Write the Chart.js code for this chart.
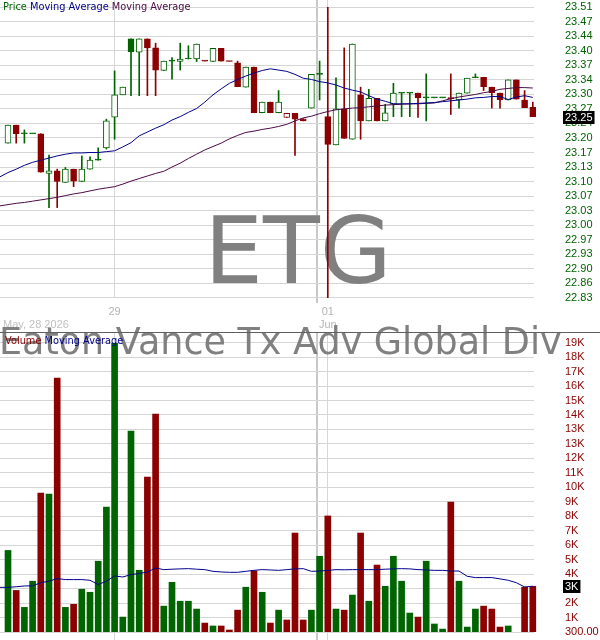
<!DOCTYPE html>
<html>
<head>
<meta charset="utf-8">
<script src="https://cdn.jsdelivr.net/npm/chart.js@4.4.1/dist/chart.umd.min.js"></script>
<style>
	html, body { margin: 0; padding: 0; background: #fff; }
	#quadro { position: relative; width: 600px; height: 640px; overflow: hidden; }
	#precos { position: absolute; left: 0; top: 0; }
	#volume { position: absolute; left: 0; top: 300px; }
</style>
</head>
<body>
<div id="quadro">
	<canvas id="precos" width="600" height="332"></canvas>
	<canvas id="volume" width="600" height="340"></canvas>
</div>
<script>
simbolo = 'ETG'
empresa = 'Eaton Vance Tx Adv Global Div'
dataInicio = 'May, 28 2026'

// marcas do eixo x (posicao do candle) e rotulos
diasPos = [13, 37.65, 39]
diasLabels = ['29', '', ['01', 'Jun']]

opens = [23.192, 23.234, 23.214, 23.214, 23.214, 23.121, 23.127, 23.100, 23.131, 23.102,
	23.131, 23.152, 23.181, 23.253, 23.305, 23.436, 23.405, 23.436, 23.415, 23.362,
	23.384, 23.383, 23.389, 23.389, 23.384, 23.383, 23.414, 23.383, 23.380, 23.323,
	23.370, 23.263, 23.288, 23.263, 23.252, 23.262, 23.249, 23.274, 23.353, 23.254,
	23.188, 23.272, 23.201, 23.305, 23.244, 23.297, 23.244, 23.283, 23.309, 23.309,
	23.309, 23.298, 23.298, 23.298, 23.296, 23.293, 23.309, 23.345, 23.346, 23.323,
	23.309, 23.293, 23.340, 23.293, 23.276]
highs = [23.234, 23.234, 23.223, 23.214, 23.214, 23.164, 23.131, 23.135, 23.131, 23.162,
	23.160, 23.181, 23.248, 23.361, 23.323, 23.436, 23.436, 23.436, 23.426, 23.384,
	23.392, 23.426, 23.420, 23.424, 23.384, 23.414, 23.414, 23.383, 23.384, 23.370,
	23.370, 23.288, 23.288, 23.315, 23.262, 23.262, 23.249, 23.353, 23.384, 23.510,
	23.345, 23.415, 23.424, 23.323, 23.318, 23.297, 23.283, 23.332, 23.309, 23.309,
	23.309, 23.354, 23.298, 23.298, 23.354, 23.309, 23.344, 23.354, 23.346, 23.323,
	23.309, 23.340, 23.340, 23.315, 23.288]
lows = [23.192, 23.192, 23.192, 23.214, 23.124, 23.041, 23.041, 23.100, 23.090, 23.102,
	23.131, 23.152, 23.178, 23.201, 23.305, 23.303, 23.303, 23.303, 23.303, 23.362,
	23.342, 23.363, 23.389, 23.383, 23.384, 23.383, 23.384, 23.383, 23.324, 23.323,
	23.263, 23.263, 23.263, 23.263, 23.252, 23.163, 23.244, 23.274, 23.293, 22.830,
	23.188, 23.203, 23.201, 23.201, 23.244, 23.244, 23.244, 23.254, 23.254, 23.254,
	23.252, 23.244, 23.298, 23.298, 23.259, 23.274, 23.309, 23.345, 23.315, 23.274,
	23.274, 23.293, 23.295, 23.275, 23.254]
closes = [23.234, 23.214, 23.214, 23.214, 23.124, 23.127, 23.102, 23.131, 23.103, 23.131,
	23.152, 23.152, 23.244, 23.305, 23.323, 23.406, 23.436, 23.415, 23.363, 23.384,
	23.384, 23.389, 23.389, 23.424, 23.384, 23.414, 23.384, 23.383, 23.324, 23.370,
	23.263, 23.288, 23.263, 23.288, 23.262, 23.248, 23.244, 23.353, 23.353, 23.189,
	23.272, 23.203, 23.424, 23.244, 23.297, 23.244, 23.263, 23.309, 23.309, 23.309,
	23.298, 23.298, 23.298, 23.298, 23.296, 23.309, 23.344, 23.345, 23.324, 23.310,
	23.294, 23.340, 23.295, 23.275, 23.254]
// medias: o primeiro valor e do candle anterior, fora da tela
mediaCurta = [23.113,
	23.123, 23.131, 23.140, 23.147, 23.152, 23.157, 23.162, 23.166, 23.169, 23.169,
	23.170, 23.170, 23.172, 23.174, 23.183, 23.193, 23.209, 23.218, 23.227, 23.235,
	23.246, 23.254, 23.264, 23.273, 23.288, 23.305, 23.319, 23.332, 23.341, 23.349,
	23.356, 23.362, 23.366, 23.363, 23.360, 23.353, 23.344, 23.341, 23.336, 23.333,
	23.328, 23.321, 23.316, 23.312, 23.303, 23.295, 23.290, 23.284, 23.284, 23.284,
	23.285, 23.286, 23.287, 23.289, 23.291, 23.293, 23.295, 23.298, 23.299, 23.301,
	23.301, 23.294, 23.300, 23.303, 23.299]
mediaLonga = [23.045,
	23.048, 23.051, 23.053, 23.056, 23.059, 23.062, 23.065, 23.069, 23.073, 23.076,
	23.080, 23.084, 23.087, 23.090, 23.096, 23.103, 23.109, 23.115, 23.121, 23.126,
	23.136, 23.145, 23.156, 23.166, 23.176, 23.184, 23.192, 23.202, 23.210, 23.217,
	23.220, 23.224, 23.227, 23.231, 23.236, 23.244, 23.251, 23.255, 23.261, 23.266,
	23.270, 23.272, 23.274, 23.275, 23.277, 23.279, 23.281, 23.282, 23.283, 23.284,
	23.284, 23.285, 23.286, 23.291, 23.296, 23.300, 23.303, 23.306, 23.310, 23.313,
	23.318, 23.320, 23.322, 23.322, 23.321]
volumes = [5600, 3000, 1900, 3600, 9330, 9260, 16800, 1900, 2100, 3080,
	2880, 4900, 8420, 19050, 1270, 13360, 4310, 10370, 14460, 1980,
	3530, 2300, 2300, 1790, 880, 690, 690, 430, 1720, 3210,
	4270, 2880, 880, 1720, 1080, 6730, 1080, 1720, 5220, 7840,
	1790, 1720, 2700, 6730, 2300, 4650, 3270, 5220, 3600, 1530,
	1270, 4900, 820, 490, 8745, 3600, 620, 1790, 1980, 1790,
	620, 690, 0, 3210, 3270]
mediaVolume = [3200,
	3200, 3240, 3290, 3300, 3500, 3600, 3770, 3705, 3705, 3705,
	3660, 3382, 3600, 3938, 3873, 4029, 4100, 4197, 4455, 4352,
	4380, 4400, 4416, 4380, 4352, 4242, 4200, 4177, 4177, 4242,
	4306, 4352, 4330, 4306, 4352, 4400, 4416, 4242, 4261, 4300,
	4352, 4340, 4352, 4352, 4352, 4352, 4380, 4400, 4416, 4400,
	4352, 4330, 4306, 4306, 4261, 4261, 3919, 3835, 3835, 3835,
	3750, 3660, 3500, 3227, 3273]

precoTicks = [23.51, 23.476, 23.442, 23.408, 23.374, 23.34, 23.306, 23.272, 23.238, 23.204,
	23.17, 23.136, 23.102, 23.068, 23.034, 23.0, 22.966, 22.932, 22.898, 22.864, 22.83]
precoLabels = ['23.51', '23.47', '23.44', '23.40', '23.37', '23.34', '23.30', '23.27', '23.24', '23.20',
	'23.17', '23.13', '23.10', '23.07', '23.03', '23.00', '22.97', '22.93', '22.90', '22.86', '22.83']
volumeTicks = [300, 1240, 2180, 3120, 4060, 5000, 5940, 6880, 7820, 8760, 9700,
	10640, 11580, 12520, 13460, 14400, 15340, 16280, 17220, 18160, 19100]
volumeLabels = ['300.00', '1K', '2K', '3K', '4K', '5K', '6K', '7K', '8K', '9K', '10K',
	'11K', '12K', '13K', '13K', '14K', '15K', '16K', '17K', '18K', '19K']

VERDE = '#006400'
VERMELHO = '#8b0000'
AZUL = '#00008b'
ROXO = '#4c0a46'
GRADE = '#d6d6d6'
FONTE = "'Liberation Sans', Arial, sans-serif"
FONTE_TXT = "'DejaVu Sans', Verdana, sans-serif"

Chart.defaults.font.family = FONTE
Chart.defaults.font.size = 11

indices = opens.map((v, i) => i)
cores = closes.map((c, i) => (i === 0 || c >= closes[i - 1]) ? VERDE : VERMELHO)
preenchido = closes.map((c, i) => c <= opens[i])
recorte = { left: 0, top: 0, right: 5, bottom: 0 }

function pontosMedia(media) {
	// x = -1 para o valor anterior ao primeiro candle
	return media.map((v, i) => ({ x: i - 1, y: v }))
}

function eixoX(mostrarLabels, altura, risco) {
	return {
		type: 'linear', min: -0.9756, max: 64.1463, offset: false,
		afterBuildTicks: function (s) { s.ticks = diasPos.map(v => ({ value: v })) },
		afterFit: function (s) { s.height = altura; s.paddingLeft = 0; s.paddingRight = 0 },
		border: { display: false },
		grid: {
			offset: false,
			color: c => c.index === 1 ? '#c8c8c8' : GRADE,
			lineWidth: c => c.index === 1 ? 2 : 1,
			drawTicks: true,
			tickLength: risco,
			tickColor: c => c.index === 1 ? '#c8c8c8' : (mostrarLabels ? 'rgba(0,0,0,0)' : GRADE),
			tickWidth: c => c.index === 1 ? 2 : 1,
		},
		ticks: {
			display: mostrarLabels, autoSkip: false, maxRotation: 0, padding: 2,
			color: '#b4b4b4', font: { size: 11 },
			callback: (v, i) => diasLabels[i],
		},
	}
}

function eixoY(min, max, ticks, labels, cor) {
	return {
		position: 'right', min: min, max: max,
		afterBuildTicks: function (s) { s.ticks = ticks.map(v => ({ value: v })) },
		afterFit: function (s) { s.width = 66; s.paddingTop = 0; s.paddingBottom = 0 },
		border: { display: false },
		grid: { color: GRADE, drawTicks: false },
		ticks: {
			autoSkip: false, padding: 31, color: cor, font: { size: 11 },
			callback: (v, i) => labels[i],
		},
	}
}

function escreveLegenda(ctx, x, y, partes) {
	ctx.save()
	ctx.font = '9.8px ' + FONTE_TXT
	ctx.textBaseline = 'alphabetic'
	partes.forEach(p => {
		ctx.fillStyle = p[1]
		ctx.fillText(p[0], x, y)
		x += ctx.measureText(p[0]).width
	})
	ctx.restore()
}

function caixaValor(ctx, x, y, texto) {
	ctx.save()
	ctx.font = '11px ' + FONTE
	const w = ctx.measureText(texto).width + 4
	ctx.fillStyle = '#000'
	ctx.fillRect(x, Math.round(y) - 6, w, 13)
	ctx.fillStyle = '#fff'
	ctx.textBaseline = 'middle'
	ctx.fillText(texto, x + 2, Math.round(y) + 0.5)
	ctx.restore()
}

function formataVolume(v) {
	return v >= 1000 ? Math.round(v / 1000) + 'K' : v.toFixed(2)
}

marcaPrecos = {
	id: 'marcaPrecos',
	beforeDatasetsDraw(chart) {
		const ctx = chart.ctx
		ctx.save()
		ctx.fillStyle = '#808080'
		ctx.font = '93px ' + FONTE_TXT
		ctx.textAlign = 'center'
		ctx.fillText(simbolo, 298, 283)
		ctx.restore()
	},
	afterDraw(chart) {
		const ctx = chart.ctx
		escreveLegenda(ctx, 3, 10, [['Price ', VERDE], ['Moving Average ', AZUL], ['Moving Average', ROXO]])
		ctx.save()
		ctx.font = '11px ' + FONTE
		ctx.fillStyle = '#c0c0c0'
		ctx.fillText(dataInicio, 3, 327.5)
		ctx.restore()
		const ultimo = closes[closes.length - 1]
		caixaValor(ctx, 563, chart.scales.y.getPixelForValue(ultimo), ultimo.toFixed(2))
	}
}

marcaVolume = {
	id: 'marcaVolume',
	beforeDatasetsDraw(chart) {
		const ctx = chart.ctx
		ctx.save()
		ctx.fillStyle = '#808080'
		ctx.font = '36.5px ' + FONTE_TXT
		ctx.fillText(empresa, -1, 54.3)
		ctx.restore()
	},
	afterDraw(chart) {
		const ctx = chart.ctx
		ctx.save()
		ctx.strokeStyle = '#606060'
		ctx.lineWidth = 1
		ctx.beginPath()
		ctx.moveTo(0, 32.5)
		ctx.lineTo(600, 32.5)
		ctx.stroke()
		ctx.restore()
		escreveLegenda(ctx, 5, 44, [['Volume ', VERMELHO], ['Moving Average', AZUL]])
		const ultimo = volumes[volumes.length - 1]
		caixaValor(ctx, 563, chart.scales.y.getPixelForValue(ultimo), formataVolume(ultimo))
	}
}

function makeChartPrecos() {
	var ctx = document.getElementById('precos').getContext('2d')
	return new Chart(ctx, {
		type: 'bar',
		data: {
			datasets: [
				{
					type: 'line', order: 0,
					data: pontosMedia(mediaCurta),
					borderColor: AZUL, borderWidth: 1, pointRadius: 0, tension: 0,
				},
				{
					type: 'line', order: 0,
					data: pontosMedia(mediaLonga),
					borderColor: ROXO, borderWidth: 1, pointRadius: 0, tension: 0,
				},
				{
					order: 1, grouped: false, clip: recorte,
					data: indices.map(i => ({ x: i, y: [opens[i], closes[i]] })),
					backgroundColor: indices.map(i => preenchido[i] ? cores[i] : '#ffffff'),
					borderColor: cores, borderWidth: 1, borderSkipped: false,
					barThickness: 6, minBarLength: 1,
				},
				{
					order: 2, grouped: false, clip: recorte,
					data: indices.map(i => ({ x: i, y: [lows[i], highs[i]] })),
					backgroundColor: cores, borderWidth: 0, barThickness: 1,
				},
			],
		},
		options: {
			responsive: false,
			animation: false,
			events: [],
			layout: { padding: 0 },
			plugins: { legend: { display: false }, tooltip: { enabled: false } },
			scales: {
				x: eixoX(true, 34, 5),
				y: eixoY(22.8293, 23.5271, precoTicks, precoLabels, VERDE),
			},
		},
		plugins: [marcaPrecos],
	})
}

function makeChartVolume() {
	var ctx = document.getElementById('volume').getContext('2d')
	return new Chart(ctx, {
		type: 'bar',
		data: {
			datasets: [
				{
					type: 'line', order: 0,
					data: pontosMedia(mediaVolume),
					borderColor: AZUL, borderWidth: 1, pointRadius: 0, tension: 0,
				},
				{
					order: 1, grouped: false, clip: recorte,
					data: indices.map(i => ({ x: i, y: volumes[i] })),
					backgroundColor: cores, borderWidth: 0, barThickness: 6,
				},
			],
		},
		options: {
			responsive: false,
			animation: false,
			events: [],
			layout: { padding: { top: 32 } },
			plugins: { legend: { display: false }, tooltip: { enabled: false } },
			scales: {
				x: eixoX(false, 8, 8),
				y: eixoY(300, 19789, volumeTicks, volumeLabels, VERMELHO),
			},
		},
		plugins: [marcaVolume],
	})
}

makeChartPrecos()
makeChartVolume()
</script>
</body>
</html>
